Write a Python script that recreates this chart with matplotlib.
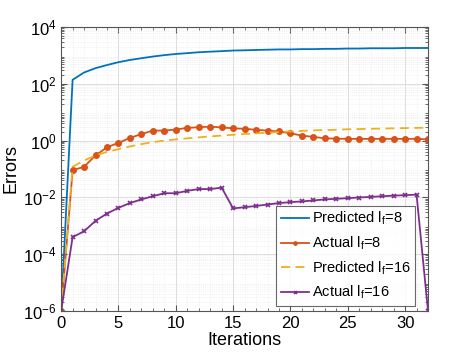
import numpy as np
import matplotlib
matplotlib.use("Agg")
from matplotlib import pyplot as plt
from matplotlib.ticker import LogLocator, NullFormatter, MultipleLocator

plt.rcParams['font.family'] = ['Liberation Sans', 'DejaVu Sans']
plt.rcParams['mathtext.fontset'] = 'custom'
plt.rcParams['mathtext.rm'] = 'Liberation Sans'
plt.rcParams['mathtext.it'] = 'Liberation Sans:italic'

iterations = list(range(33))

pred_8 = [1e-6, 138, 250, 355, 457, 575, 690, 795, 910, 1020, 1120,
          1200, 1290, 1350, 1410, 1480, 1510, 1550, 1585, 1620, 1620,
          1660, 1660, 1700, 1700, 1740, 1740, 1780, 1780, 1780, 1820,
          1820, 1820]

actual_8 = [1e-6, 0.09, 0.12, 0.3, 0.58, 0.83, 1.24, 1.7, 2.25, 2.25, 2.45,
            2.8, 2.95, 3.1, 2.9, 2.7, 2.6, 2.4, 2.25, 2.1, 1.8,
            1.5, 1.35, 1.2, 1.17, 1.15, 1.15, 1.15, 1.15, 1.15, 1.15,
            1.15, 1.1]

pred_16 = [1e-6, 0.12, 0.2, 0.3, 0.4, 0.5, 0.62, 0.75, 0.88, 1.0, 1.1,
           1.2, 1.3, 1.4, 1.5, 1.6, 1.7, 1.8, 1.9, 2.0, 2.1,
           2.2, 2.3, 2.35, 2.4, 2.5, 2.55, 2.6, 2.65, 2.7, 2.75,
           2.8, 2.85]

actual_16 = [1e-6, 4e-4, 6.4e-4, 1.5e-3, 2.7e-3, 4.3e-3, 6.3e-3, 8.5e-3, 0.011, 0.014, 0.014,
             0.017, 0.0196, 0.0196, 0.022, 4.1e-3, 4.5e-3, 5e-3, 5.6e-3, 6.3e-3, 6.8e-3,
             7.2e-3, 7.8e-3, 8.5e-3, 8.9e-3, 9.4e-3, 0.0099, 0.0104, 0.011, 0.0115, 0.012,
             0.0125, 1e-6]

fig = plt.figure(figsize=(4.74, 3.55), dpi=100)
ax = fig.add_axes([0.129, 0.124, 0.774, 0.800])

ax.plot(iterations, pred_8, color='#0072BD', lw=1.3, label='Predicted l$_\\mathregular{f}$=8')
ax.plot(iterations, actual_8, color='#D95319', lw=1.3, marker='o', ms=4,
        label='Actual l$_\\mathregular{f}$=8')
ax.plot(iterations, pred_16, color='#EDB120', lw=1.3, ls=(0, (5, 3)),
        label='Predicted l$_\\mathregular{f}$=16')
ax.plot(iterations, actual_16, color='#7E2F8E', lw=1.3, marker='x', ms=3.5, mew=1.2,
        label='Actual l$_\\mathregular{f}$=16')

ax.set_yscale('log')
ax.set_xlim(0, 32)
ax.set_ylim(1e-6, 1e4)
ax.xaxis.set_major_locator(MultipleLocator(5))
ax.xaxis.set_minor_locator(MultipleLocator(1))
ax.yaxis.set_major_locator(LogLocator(base=10, subs=[1.0], numticks=20))
ax.yaxis.set_minor_locator(LogLocator(base=10, subs=np.arange(2, 10), numticks=20))
ax.yaxis.set_minor_formatter(NullFormatter())
ax.set_yticks([1e-6, 1e-4, 1e-2, 1e0, 1e2, 1e4])

ax.grid(True, which='major', color='#dcdcdc', lw=0.7)
ax.grid(True, which='minor', color='#e8e8e8', lw=0.5, ls=':')
ax.set_axisbelow(True)
ax.tick_params(which='both', direction='in', top=True, right=True, labelsize=12, color='#555555')
ax.tick_params(which='major', length=4)
ax.tick_params(which='minor', length=2)
for s in ax.spines.values():
    s.set_color('#555555')
    s.set_linewidth(0.8)

ax.set_xlabel('Iterations', fontsize=13, labelpad=1)
ax.set_ylabel('Errors', fontsize=13, labelpad=2)

leg = ax.legend(loc='lower right', bbox_to_anchor=(0.965, 0.018), fontsize=10.5,
                frameon=True, fancybox=False, edgecolor='#444444',
                handlelength=1.9, handletextpad=0.25, borderpad=0.3,
                labelspacing=0.5, borderaxespad=0, markerscale=0.6, numpoints=1)
leg.get_frame().set_linewidth(0.8)

fig.savefig('out.png', dpi=100)
